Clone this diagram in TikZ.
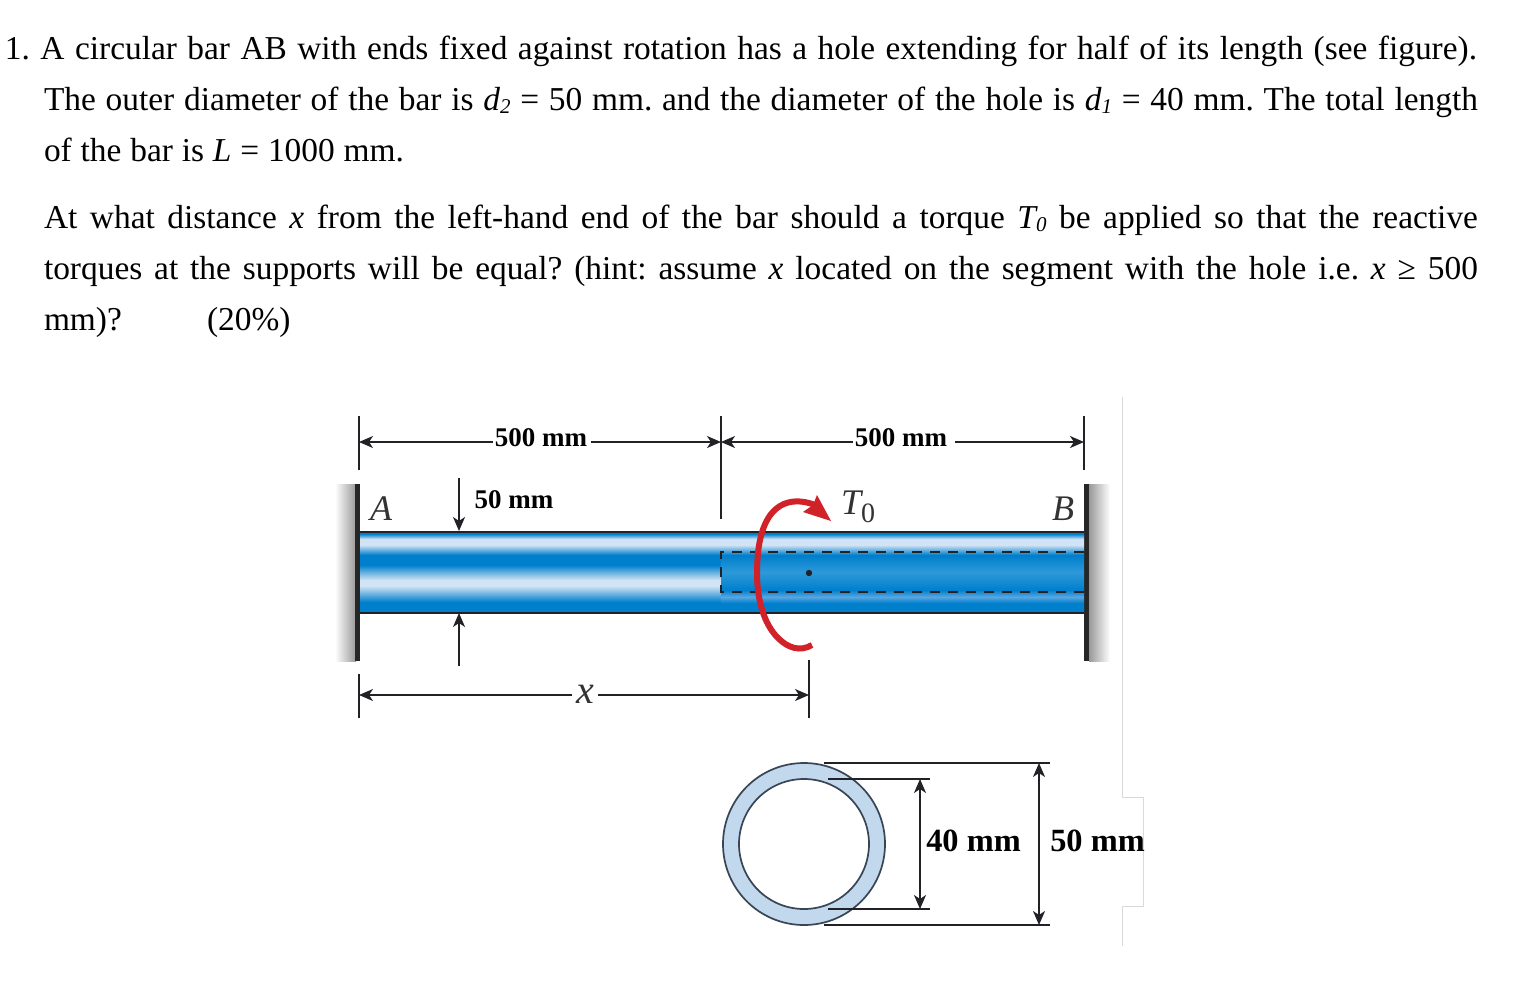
\documentclass[tikz,border=0pt]{standalone}
\usepackage{fontspec}
\setmainfont{Liberation Serif}
\usetikzlibrary{arrows.meta}
\definecolor{barblue}{rgb}{0.0,0.50,0.80}
\definecolor{barlight}{rgb}{0.82,0.89,0.96}
\definecolor{barpale}{rgb}{0.35,0.65,0.88}
\definecolor{barmid}{rgb}{0.18,0.60,0.85}
\definecolor{ringblue}{rgb}{0.76,0.85,0.93}
\definecolor{ringedge}{rgb}{0.22,0.27,0.33}
\definecolor{inkdark}{rgb}{0.13,0.13,0.15}
\definecolor{torquered}{rgb}{0.82,0.13,0.16}
\pgfdeclareverticalshading{barshade}{100bp}{color(0bp)=(barblue); color(31.7bp)=(barblue); color(41.5bp)=(barlight); color(45.1bp)=(barlight); color(54.3bp)=(barblue); color(60.4bp)=(barblue); color(66.5bp)=(barlight); color(70.1bp)=(barlight); color(73.2bp)=(barblue); color(100bp)=(barblue)}
\pgfdeclareverticalshading{holeshade}{100bp}{color(0bp)=(barblue); color(31bp)=(barblue); color(34.8bp)=(barpale); color(39bp)=(barblue); color(50bp)=(barmid); color(59.8bp)=(barblue); color(60.4bp)=(barblue); color(66.5bp)=(barlight); color(70.1bp)=(barlight); color(73.2bp)=(barblue); color(100bp)=(barblue)}
\pgfdeclarehorizontalshading{wallshade}{100bp}{color(0bp)=(white); color(25bp)=(white); color(75bp)=(black!40); color(100bp)=(black!40)}
\newcommand{\lowidx}[1]{\raisebox{-3pt}{\fontsize{21}{21}\selectfont #1}}
\frenchspacing
\begin{document}
\begin{tikzpicture}[x=1pt,y=-1pt]
\tikzset{every node/.style={inner sep=0pt,outer sep=0pt}}
\tikzset{line/.style={font=\fontsize{33.4}{33.4}\selectfont,anchor=base west}}
\tikzset{dim/.style={font=\bfseries\fontsize{27}{27}\selectfont}}
\tikzset{dim big/.style={font=\bfseries\fontsize{32.4}{32.4}\selectfont}}
\tikzset{name label/.style={font=\itshape\fontsize{36}{36}\selectfont,text=black!80}}
\tikzset{tick/.style={draw=inkdark,line width=1.7pt}}
\tikzset{arrow/.style={draw=inkdark,line width=1.7pt,{Stealth[length=14pt,width=12pt,inset=4pt]}-{Stealth[length=14pt,width=12pt,inset=4pt]}}}
\tikzset{lead/.style={draw=inkdark,line width=1.7pt,-{Stealth[length=14pt,width=12pt,inset=4pt]}}}
\tikzset{wall/.style={fill=black!85,draw=none}}
\useasboundingbox (0,0) rectangle (1539,999);
\fill[white] (0,0) rectangle (1539,999);
% question text
\node[line] (line1) at (5,59) {\makebox[1472pt][s]{1. A circular bar AB with ends fixed against rotation has a hole extending for half of its length (see figure).}};
\node[line] (line2) at (44,110) {\makebox[1434pt][s]{The outer diameter of the bar is \textit{d\lowidx{2}} = 50 mm. and the diameter of the hole is \textit{d\lowidx{1}} = 40 mm. The total length}};
\node[line] (line3) at (44,161) {\makebox[360pt][s]{of the bar is \textit{L} = 1000 mm.}};
\node[line] (line4) at (44,228) {\makebox[1434pt][s]{At what distance \textit{x} from the left-hand end of the bar should a torque \textit{T\lowidx{0}} be applied so that the reactive}};
\node[line] (line5) at (44,279) {\makebox[1434pt][s]{torques at the supports will be equal? (hint: assume \textit{x} located on the segment with the hole i.e. \textit{x} ≥ 500}};
\node[line] (line6) at (44,330) {mm)?};
\node[line] (score) at (207,330) {(20\%)};
% page edge left in the figure
\draw[black!15,line width=1pt] (1122,397) -- (1122,797) -- (1143,797) -- (1143,906) -- (1122,906) -- (1122,946);
% walls
\shade[shading=wallshade] (335,484) rectangle (356,661);
\shade[shading=wallshade,shading angle=180] (1089,484) rectangle (1110,661);
\fill[wall] (355,484) rectangle (360,661);
\fill[wall] (1084,484) rectangle (1089,661);
% bar
\shade[shading=barshade] (360,531) rectangle (721,613);
\shade[shading=holeshade] (721,531) rectangle (1084,613);
\draw[inkdark,line width=2pt] (360,532) -- (1084,532);
\draw[inkdark,line width=2pt] (360,612.5) -- (1084,612.5);
\draw[inkdark,line width=1.9pt,dash pattern=on 10pt off 8pt] (1084,552) -- (721,552) -- (721,592) -- (1084,592);
\fill[inkdark] (809,573) circle (3.2pt);
% torque
\draw[torquered,line width=6pt] (812,645) .. controls (800,652) and (788,648) .. (778,638) .. controls (764,624) and (757,600) .. (757,573) .. controls (757,545) and (762,517) .. (780,506) .. controls (790,500) and (802,500) .. (815,505);
\fill[torquered] (831,521) -- (803,512) -- (813,505) -- (817,495) -- cycle;
% labels on the bar
\node[name label] (A) at (381,509) {A};
\node[name label] (B) at (1063,509) {B};
\node[name label,anchor=base west] (T) at (841,514) {T\raisebox{-8pt}{\normalfont\fontsize{28}{28}\selectfont 0}};
% top dimensions
\coordinate (topA) at (359,442);
\coordinate (topM) at (721,442);
\coordinate (topB) at (1084,442);
\node[dim] (left500) at (541,438) {500 mm};
\node[dim] (right500) at (901,438) {500 mm};
\draw[tick] (359,416) -- (359,470);
\draw[tick] (721,416) -- (721,519);
\draw[tick] (1084,416) -- (1084,470);
\draw[lead] ([xshift=-2pt]left500.west |- topA) -- (topA);
\draw[lead] ([xshift=4pt]left500.east |- topA) -- (topM);
\draw[lead] ([xshift=-2pt]right500.west |- topA) -- (topM);
\draw[lead] ([xshift=8pt]right500.east |- topA) -- (topB);
% thickness
\coordinate (thickTop) at (459,531);
\coordinate (thickBot) at (459,613);
\coordinate (thickA) at (459,478);
\coordinate (thickB) at (459,666);
\node[dim] (thick) at (514,500) {50 mm};
\draw[lead] (thickA) -- (thickTop);
\draw[lead] (thickB) -- (thickBot);
% distance x
\coordinate (xA) at (359,695);
\coordinate (xB) at (809,695);
\node[name label,font=\itshape\fontsize{40}{40}\selectfont] (xlabel) at (585,694) {x};
\draw[tick] (359,674) -- (359,718);
\draw[tick] (809,660) -- (809,718);
\draw[lead] ([xshift=-4pt]xlabel.west |- xA) -- (xA);
\draw[lead] ([xshift=4pt]xlabel.east |- xA) -- (xB);
% cross section
\draw[draw=ringedge,fill=ringblue,line width=1.7pt] (804,844) circle (81pt);
\draw[draw=ringedge,fill=white,line width=1.7pt] (804,844) circle (65pt);
\coordinate (outerTop) at (1039,763);
\coordinate (outerBot) at (1039,925);
\coordinate (innerTop) at (920,779);
\coordinate (innerBot) at (920,909);
\draw[tick] (824,763) -- (1050,763);
\draw[tick] (824,925) -- (1050,925);
\draw[tick] (828,779) -- (930,779);
\draw[tick] (828,909) -- (930,909);
\draw[arrow] (innerTop) -- (innerBot);
\draw[arrow] (outerTop) -- (outerBot);
\node[dim big] (inner40) at (973.5,841) {40 mm};
\node[dim big] (outer50) at (1097.5,841) {50 mm};
\end{tikzpicture}
\end{document}
